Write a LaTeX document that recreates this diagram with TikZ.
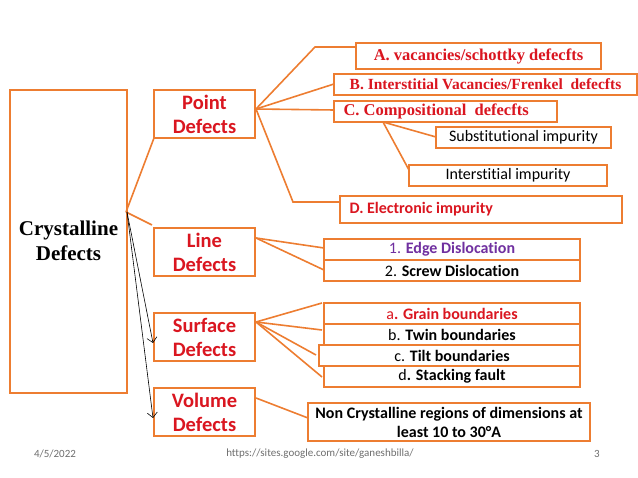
\documentclass[tikz,border=0pt]{standalone}
\usepackage{fontspec}
\usetikzlibrary{arrows.meta}
\setmainfont{Carlito}[Ligatures=NoCommon]
\newfontfamily\serif{Liberation Serif}
\definecolor{org}{RGB}{237,125,49}
\definecolor{rd}{RGB}{218,22,32}
\definecolor{pur}{RGB}{112,48,160}
\definecolor{gr}{RGB}{110,110,110}
\begin{document}
\begin{tikzpicture}[x=1pt,y=-1pt,
 bx/.style={draw=org,line width=1.6pt,fill=white,inner sep=0pt},
 ln/.style={draw=org,line width=1.6pt},
 cat/.style={font=\fontsize{20.5}{24}\selectfont\bfseries,text=rd,align=center},
 sr/.style={font=\serif\fontsize{16.5}{19}\selectfont\bfseries,text=rd},
 sm/.style={font=\fontsize{16}{18}\selectfont}]
\useasboundingbox (0,0) rectangle (638,478);
% main
\draw[bx] (10,90) rectangle (127,393);
\node[font=\serif\fontsize{21}{25}\selectfont\bfseries,align=center] (cd) at (68.5,241) {Crystalline\\Defects};
\coordinate (j) at (126,212);
% categories
\draw[bx] (154,90) rectangle (255,138); \node[cat] (pd) at (204.5,114) {Point\\Defects};
\draw[bx] (154,228) rectangle (255,276); \node[cat] (ld) at (204.5,252) {Line\\Defects};
\draw[bx] (154,313) rectangle (255,361); \node[cat] (sd) at (204.5,337) {Surface\\Defects};
\draw[bx] (154,388) rectangle (255,436); \node[cat] (vd) at (204.5,412) {Volume\\Defects};
\draw[ln] (j) -- (154,138);
\draw[ln] (j) -- (152,225);
\draw[-{Straight Barb[length=5pt]},semithick] (127,212) -- (153,343);
\draw[-{Straight Barb[length=5pt]},semithick] (127,212) -- (153,418);
% point defects
\coordinate (pr) at (256,109);
\draw[ln] (pr) -- (315,47) -- (356,47);
\draw[ln] (pr) -- (334,84);
\draw[ln] (pr) -- (334,110);
\draw[ln] (pr) -- (293,202) -- (340,202);
\draw[ln] (383,122) -- (436,137);
\draw[ln] (383,122) -- (409,170);
\draw[bx] (356,43) rectangle (601,69); \node[sr] (a) at (478.5,56) {A. vacancies/schottky defecfts};
\draw[bx] (334,74) rectangle (637,95); \node[sr,font=\serif\fontsize{15.5}{18}\selectfont\bfseries] (b) at (485.5,84.5) {B. Interstitial Vacancies/Frenkel\ \ defecfts};
\draw[bx] (334,101) rectangle (557,122); \node[sr,anchor=west] (c) at (340,111.5) {C. Compositional\ \ defecfts};
\draw[bx] (436,127) rectangle (611,148); \node[sm] (s) at (523.5,137.5) {Substitutional impurity};
\draw[bx] (409,165) rectangle (607,186); \node[sm] (i) at (508,175.5) {Interstitial impurity};
\draw[bx] (340,196) rectangle (622,223); \node[sm,font=\fontsize{16}{18}\selectfont\bfseries,text=rd,anchor=west] (d) at (346,209.5) {D. Electronic impurity};
% line
\draw[ln] (256,238) -- (324,248);
\draw[ln] (256,238) -- (324,270);
\draw[bx] (324,239) rectangle (580,260); \node[sm,text=pur] (e) at (452,249.5) {1. \textbf{Edge Dislocation}};
\draw[bx] (324,260) rectangle (580,281); \node[sm] (sc) at (452,270.5) {2. \textbf{Screw Dislocation}};
% surface
\coordinate (sr0) at (256,322);
\draw[ln] (sr0) -- (322,303);
\draw[ln] (sr0) -- (322,330);
\draw[ln] (sr0) -- (316,355);
\draw[ln] (sr0) -- (322,377);
\draw[bx] (324,303) rectangle (580,324); \node[sm,text=rd] (g) at (452,313.5) {a\textbf{. Grain boundaries}};
\draw[bx] (324,324) rectangle (580,345); \node[sm] (t) at (452,334.5) {b. \textbf{Twin boundaries}};
\draw[bx] (319,345) rectangle (580,366); \node[sm] (tl) at (452,355.5) {c. \textbf{Tilt boundaries}};
\draw[bx] (324,366) rectangle (580,387); \node[sm] (st) at (452,376.5) {d\textbf{. Stacking fault}};
% volume
\draw[ln] (256,398) -- (308,418);
\draw[bx] (308,403) rectangle (590,441);
\node[sm,font=\fontsize{16}{19}\selectfont\bfseries,align=center] (n) at (449,422) {Non Crystalline regions of dimensions at\\least 10 to 30°A};
% footer
\node[text=gr,font=\fontsize{11}{12}\selectfont] (f1) at (55,454) {4/5/2022};
\node[text=gr,font=\fontsize{11}{12}\selectfont] (f2) at (320,454) {https://sites.google.com/site/ganeshbilla/};
\node[text=gr,font=\fontsize{11}{12}\selectfont] (f3) at (597,454) {3};
\end{tikzpicture}
\end{document}
